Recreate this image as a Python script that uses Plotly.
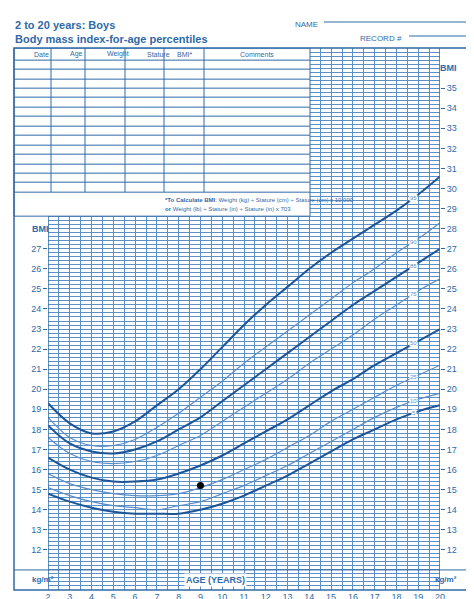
import numpy as np
import plotly.graph_objects as go

# percentile curves (boys, 2-20 years)
ages = [2, 3, 4, 5, 6, 7, 8, 9, 10, 11, 12, 13, 14, 15, 16, 17, 18, 19, 20]
p95 = [19.3, 18.3, 17.8, 17.9, 18.4, 19.2, 20.0, 21.0, 22.1, 23.2, 24.2, 25.1, 26.0, 26.8, 27.5, 28.2, 28.9, 29.7, 30.6]
p90 = [18.6, 17.6, 17.2, 17.2, 17.5, 18.1, 18.8, 19.6, 20.4, 21.3, 22.1, 22.9, 23.7, 24.5, 25.3, 26.0, 26.8, 27.5, 28.3]
p85 = [18.2, 17.3, 16.9, 16.8, 17.0, 17.4, 18.0, 18.6, 19.4, 20.2, 21.0, 21.8, 22.6, 23.4, 24.2, 24.9, 25.6, 26.3, 27.0]
p75 = [17.6, 16.8, 16.4, 16.3, 16.4, 16.7, 17.2, 17.7, 18.4, 19.1, 19.8, 20.5, 21.3, 22.0, 22.7, 23.5, 24.2, 24.9, 25.5]
p50 = [16.6, 16.0, 15.6, 15.4, 15.4, 15.5, 15.8, 16.2, 16.7, 17.3, 17.9, 18.5, 19.2, 19.9, 20.5, 21.2, 21.8, 22.4, 23.0]
p25 = [15.8, 15.3, 15.0, 14.8, 14.7, 14.7, 14.8, 15.1, 15.5, 16.0, 16.5, 17.1, 17.7, 18.4, 19.0, 19.6, 20.2, 20.7, 21.2]
p10 = [15.1, 14.7, 14.4, 14.2, 14.1, 14.0, 14.2, 14.4, 14.8, 15.2, 15.7, 16.2, 16.8, 17.4, 18.0, 18.6, 19.1, 19.5, 19.8]
p5 = [14.8, 14.4, 14.1, 13.9, 13.8, 13.8, 13.8, 14.0, 14.3, 14.7, 15.2, 15.7, 16.3, 16.9, 17.5, 18.0, 18.5, 18.9, 19.2]
curves = [("95", p95, True), ("90", p90, False), ("85", p85, True), ("75", p75, False),
          ("50", p50, True), ("25", p25, False), ("10", p10, False), ("5", p5, True)]

child_age = [9]
child_bmi = [15.2]

table_cols = ["Date", "Age", "Weight", "Stature", "BMI*", "Comments"]

BLUE = "#2f6aa8"
DARK = "#1d5596"
LIGHT = "#5b8fc8"
FONT = "Liberation Sans"


def px_x(px):
    # page pixel -> paper x (plot domain is 40..432 px)
    return (px - 40) / 392


def px_y(py):
    # page pixel -> BMI value (BMI 35 at 80 px)
    return 35 - (py - 80) / 20.07


fig = go.Figure()
for name, vals, thick in curves:
    fig.add_trace(go.Scatter(x=ages, y=vals, mode="lines", line_shape="spline",
                             line=dict(color=DARK if thick else LIGHT, width=2 if thick else 1.2),
                             showlegend=False, hoverinfo="skip"))
    # small label in a gap near age 18.8
    fig.add_annotation(x=18.8, y=float(np.interp(18.8, ages, vals)), text=name, showarrow=False,
                       font=dict(size=6, color=LIGHT, family=FONT), bgcolor="white", borderpad=0)

fig.add_trace(go.Scatter(x=child_age, y=child_bmi, mode="markers",
                         marker=dict(color="black", size=7), showlegend=False))
fig.add_trace(go.Scatter(x=[2, 20], y=[12, 12], mode="markers", marker=dict(opacity=0),
                         yaxis="y2", showlegend=False, hoverinfo="skip"))

fx0 = px_x(6)
fx1 = px_x(468)
shapes = []
# bottom band
shapes.append(dict(type="line", xref="paper", yref="y", x0=fx0, x1=fx1, y0=11, y1=11,
                   line=dict(color=BLUE, width=1)))
# table
tx1 = px_x(302)
tb = px_y(208)
shapes.append(dict(type="rect", xref="paper", yref="y", x0=fx0, x1=tx1, y0=tb, y1=37,
                   fillcolor="white", line=dict(color=BLUE, width=1), layer="above"))
row_px = [52, 61, 71, 80, 89, 99, 108, 118, 127, 137, 146, 156, 165, 174, 184]
for py in row_px:
    shapes.append(dict(type="line", xref="paper", yref="y", x0=fx0, x1=tx1, y0=px_y(py), y1=px_y(py),
                       line=dict(color=BLUE, width=1), layer="above"))
col_px = [43, 77, 117, 156, 196]
for px in col_px:
    shapes.append(dict(type="line", xref="paper", yref="y", x0=px_x(px), x1=px_x(px),
                       y0=px_y(184), y1=37, line=dict(color=BLUE, width=1), layer="above"))
col_mid = [24, 60, 97, 137, 176, 249]
for px, name in zip(col_mid, table_cols):
    fig.add_annotation(x=px_x(px), xref="paper", y=px_y(46), text=name, showarrow=False,
                       font=dict(size=7, color=BLUE, family=FONT))
fig.add_annotation(x=px_x(155), xref="paper", y=px_y(192), showarrow=False,
                   text="<b>*To Calculate BMI</b>: Weight (kg) ÷ Stature (cm) ÷ Stature (cm) x 10,000",
                   font=dict(size=6, color=BLUE, family=FONT))
fig.add_annotation(x=px_x(155), xref="paper", y=px_y(201), showarrow=False,
                   text="<b>or</b> Weight (lb) ÷ Stature (in) ÷ Stature (in) x 703",
                   font=dict(size=6, color=BLUE, family=FONT))
# outer frame and domain edges
shapes.append(dict(type="rect", xref="paper", yref="paper", x0=fx0, x1=fx1, y0=0, y1=1,
                   line=dict(color=BLUE, width=1.5), layer="above"))
shapes.append(dict(type="line", x0=20, x1=20, y0=10, y1=37, line=dict(color=BLUE, width=1.5)))
shapes.append(dict(type="line", x0=2, x1=2, y0=10, y1=tb, line=dict(color=BLUE, width=1.5)))

# band texts
fig.add_annotation(x=9.7, y=10.5, text="<b>AGE (YEARS)</b>", showarrow=False, bgcolor="white",
                   font=dict(size=9, color=BLUE, family=FONT))
for px in [22, 451]:
    fig.add_annotation(x=px_x(px), xref="paper", y=10.5, text="<b>kg/m²</b>", showarrow=False,
                       font=dict(size=8, color=BLUE, family=FONT))
fig.add_annotation(x=px_x(451), xref="paper", y=36, text="<b>BMI</b>", showarrow=False,
                   font=dict(size=9, color=BLUE, family=FONT))
fig.add_annotation(x=px_x(22), xref="paper", y=28, text="<b>BMI</b>", showarrow=False,
                   font=dict(size=9, color=BLUE, family=FONT))

# header
fig.add_annotation(x=px_x(5), xref="paper", yref="paper", y=1 + 31 / 542, xanchor="left",
                   text="<b>2 to 20 years: Boys</b>", showarrow=False,
                   font=dict(size=11, color=BLUE, family=FONT))
fig.add_annotation(x=px_x(5), xref="paper", yref="paper", y=1 + 17 / 542, xanchor="left",
                   text="<b>Body mass index-for-age percentiles</b>", showarrow=False,
                   font=dict(size=11, color=BLUE, family=FONT))
fig.add_annotation(x=px_x(285), xref="paper", yref="paper", y=1 + 30 / 542, xanchor="left",
                   text="NAME", showarrow=False, font=dict(size=8, color=BLUE, family=FONT))
fig.add_annotation(x=px_x(350), xref="paper", yref="paper", y=1 + 16 / 542, xanchor="left",
                   text="RECORD #", showarrow=False, font=dict(size=8, color=BLUE, family=FONT))
shapes.append(dict(type="line", xref="paper", yref="paper", x0=px_x(316), x1=px_x(466),
                   y0=1 + 26 / 542, y1=1 + 26 / 542, line=dict(color=BLUE, width=1)))
shapes.append(dict(type="line", xref="paper", yref="paper", x0=px_x(401), x1=px_x(466),
                   y0=1 + 12 / 542, y1=1 + 12 / 542, line=dict(color=BLUE, width=1)))

fig.update_layout(
    width=474, height=599, margin=dict(l=40, r=42, t=40, b=17),
    plot_bgcolor="white", paper_bgcolor="white", shapes=shapes,
    xaxis=dict(range=[2, 20], tickvals=ages, showgrid=True, gridcolor=LIGHT, gridwidth=1,
               minor=dict(dtick=0.5, showgrid=True, gridcolor=LIGHT, gridwidth=1),
               zeroline=False, tickfont=dict(size=9, color=BLUE, family=FONT), ticklen=0,
               automargin=False),
    yaxis=dict(range=[10, 37], tickvals=list(range(12, 28)), showgrid=True, gridcolor=LIGHT, gridwidth=1,
               minor=dict(dtick=0.2, tick0=10, showgrid=True, gridcolor=LIGHT, gridwidth=0.7),
               zeroline=False, ticks="outside", ticklen=4, tickcolor=BLUE, automargin=False,
               tickfont=dict(size=9, color=BLUE, family=FONT)),
    yaxis2=dict(range=[10, 37], overlaying="y", side="right", tickvals=list(range(12, 36)),
                showgrid=False, zeroline=False, ticks="outside", ticklen=4, tickcolor=BLUE,
                automargin=False, tickfont=dict(size=9, color=BLUE, family=FONT)),
)

fig.write_html("out.html")
